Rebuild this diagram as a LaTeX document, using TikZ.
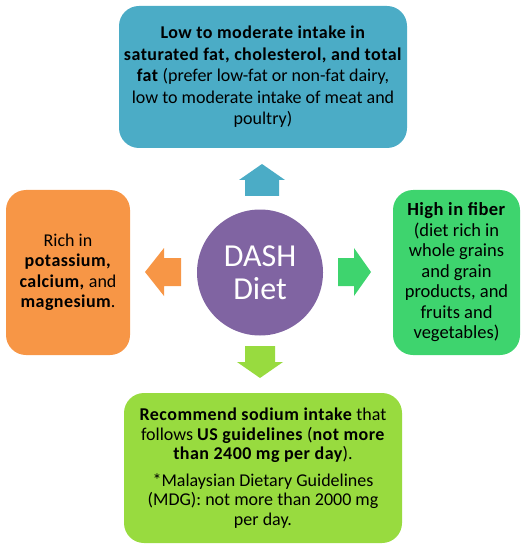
\documentclass[tikz,border=0pt]{standalone}
\usepackage{fontspec}
\setmainfont{Carlito}[BoldFeatures={LetterSpace=2.5}]
\definecolor{cblue}{HTML}{4BACC6}
\definecolor{corange}{HTML}{F79646}
\definecolor{cpurple}{HTML}{8064A2}
\definecolor{cgreen}{HTML}{3ED46E}
\definecolor{clime}{HTML}{98DB3F}
\tikzset{
  box/.style={rounded corners=20pt, inner sep=0pt, align=center, text=black,
    font=\fontsize{18}{20.5}\selectfont}
}
\begin{document}
\begin{tikzpicture}[x=1pt,y=-1pt]
\useasboundingbox (0,0) rectangle (530,553);
% boxes
\node[box, fill=cblue, minimum width=288pt, minimum height=142pt, font=\fontsize{18}{21.5}\selectfont] (top) at (263,77)
 {\textbf{Low to moderate intake in}\\ \textbf{saturated fat, cholesterol, and total}\\ \textbf{fat} (prefer low-fat or non-fat dairy,\\ low to moderate intake of meat and\\ poultry)};
\node[box, fill=corange, minimum width=124pt, minimum height=165pt] (left) at (68,272.5)
 {Rich in\\ \textbf{potassium,}\\ \textbf{calcium,} and\\ \textbf{magnesium}.};
\node[box, fill=cgreen, minimum width=127pt, minimum height=165pt, font=\fontsize{18.5}{20.5}\selectfont] (right) at (456.5,272.5)
 {\textbf{High in fiber}\\ (diet rich in\\ whole grains\\ and grain\\ products, and\\ fruits and\\ vegetables)};
\node[box, fill=clime, minimum width=278pt, minimum height=150pt, font=\fontsize{18}{19.5}\selectfont] (bottom) at (263,468)
 {\textbf{Recommend sodium intake} that\\ follows \textbf{US guidelines} (\textbf{not more}\\ \textbf{than 2400 mg per day}).\\[7pt] *Malaysian Dietary Guidelines\\ (MDG): not more than 2000 mg\\ per day.};
\node[circle, fill=cpurple, minimum size=126pt, inner sep=0pt, text=white, align=center,
  font=\fontsize{32}{33}\selectfont] (c) at (260,272.5) {DASH\\ Diet};
% block arrows
\fill[cblue] (245,196) -- (245,180) -- (239,180) -- (262,164) -- (285,180) -- (279,180) -- (279,196) -- cycle;
\fill[clime] (245,346) -- (245,362) -- (237,362) -- (260,378) -- (283,362) -- (275,362) -- (275,346) -- cycle;
\fill[corange] (181,258) -- (164,258) -- (164,248) -- (145,272) -- (164,296) -- (164,286) -- (181,286) -- cycle;
\fill[cgreen] (338,258) -- (354,258) -- (354,248) -- (371,272) -- (354,296) -- (354,286) -- (338,286) -- cycle;
\end{tikzpicture}
\end{document}
